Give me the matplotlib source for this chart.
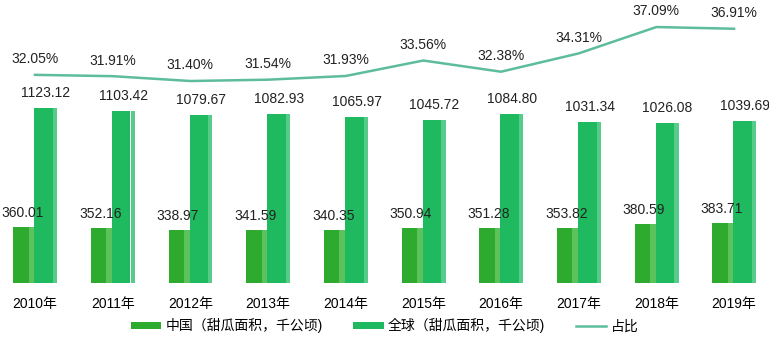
import numpy as np
import matplotlib.pyplot as plt

plt.rcParams['font.family'] = ['Liberation Sans', 'Noto Sans CJK SC', 'DejaVu Sans']

years = ['2010年', '2011年', '2012年', '2013年', '2014年',
         '2015年', '2016年', '2017年', '2018年', '2019年']
china = [360.01, 352.16, 338.97, 341.59, 340.35, 350.94, 351.28, 353.82, 380.59, 383.71]
world = [1123.12, 1103.42, 1079.67, 1082.93, 1065.97, 1045.72, 1084.80, 1031.34, 1026.08, 1039.69]
share = [32.05, 31.91, 31.40, 31.54, 31.93, 33.56, 32.38, 34.31, 37.09, 36.91]

x = np.arange(len(years))

fig = plt.figure(figsize=(7.69, 3.43), dpi=100)
ax = fig.add_axes([0.0, 0.175, 1.0, 0.825])

# front faces + lighter side faces for a pseudo-3D look
ax.bar(x - 0.18, china, width=0.2, color='#2eaa2e', label='中国（甜瓜面积，千公顷)')
ax.bar(x - 0.045, china, width=0.07, color='#5cc25c')
ax.bar(x + 0.11, world, width=0.24, color='#1fba5f', label='全球（甜瓜面积，千公顷)')
ax.bar(x + 0.258, world, width=0.055, color='#55cc8a')

for i in range(len(x)):
    ax.text(x[i] - 0.16, china[i] + 45, f'{china[i]:.2f}', ha='center', va='bottom',
            fontsize=10, color='#222222')
    ax.text(x[i] + 0.14, world[i] + 50, f'{world[i]:.2f}', ha='center', va='bottom',
            fontsize=10, color='#222222')

ax.set_xlim(-0.45, len(x) - 0.55)
ax.set_ylim(0, 1814)
ax.set_xticks(x)
ax.set_xticklabels(years, fontsize=10)
ax.tick_params(axis='x', length=0, pad=10)
ax.set_yticks([])
for s in ax.spines.values():
    s.set_visible(False)

ax2 = ax.twinx()
ax2.plot(x, share, color='#5dbd9a', lw=1.8, label='占比')
for i in range(len(x)):
    ax2.text(x[i], share[i] + 0.9, f'{share[i]:.2f}%', ha='center', va='bottom',
             fontsize=10, color='#222222')
ax2.set_ylim(10.11, 39.94)
ax2.set_yticks([])
for s in ax2.spines.values():
    s.set_visible(False)

h1, l1 = ax.get_legend_handles_labels()
h2, l2 = ax2.get_legend_handles_labels()
fig.legend(h1 + h2, l1 + l2, loc='center', bbox_to_anchor=(0.5, 0.05), ncol=3,
           frameon=False, fontsize=10, handlelength=2.2, handleheight=0.5,
           columnspacing=2.2, handletextpad=0.3)

fig.savefig('out.png', dpi=100)
